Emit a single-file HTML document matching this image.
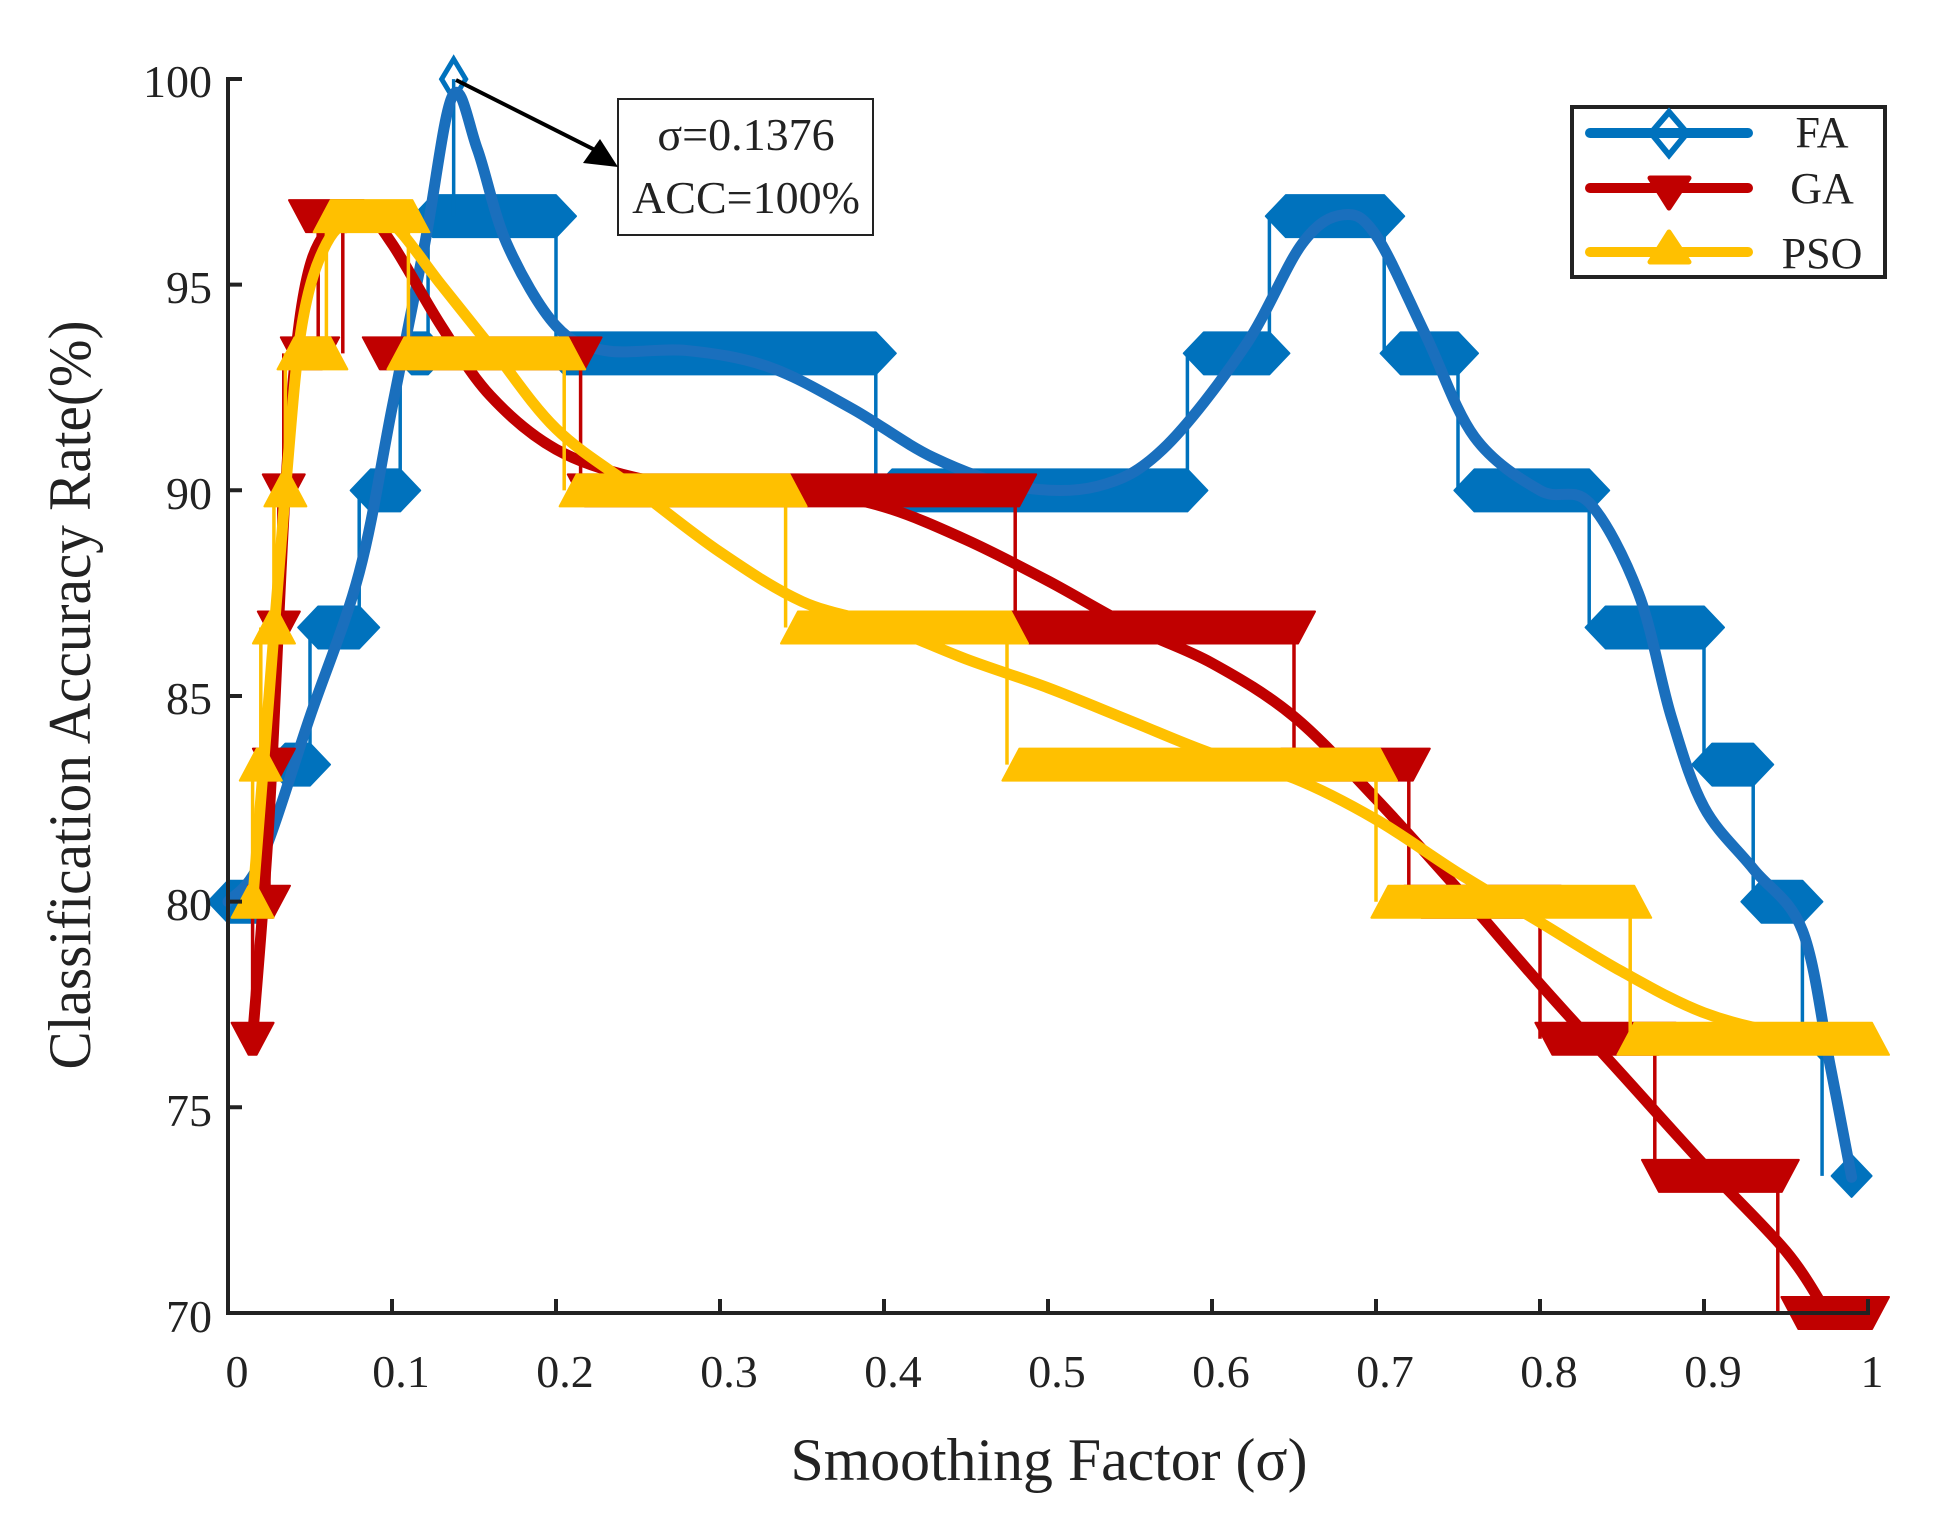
<!DOCTYPE html>
<html><head><meta charset="utf-8"><style>
html,body{margin:0;padding:0;background:#fff;}
svg{display:block;}
text{font-family:"Liberation Serif",serif;fill:#222;}
</style></head><body>
<svg id="s" width="1951" height="1535" viewBox="0 0 1951 1535" xmlns="http://www.w3.org/2000/svg">
<rect width="1951" height="1535" fill="#fff"/>
<g id="plot"></g>
<g stroke="#222" stroke-width="4" fill="none">
<path d="M228,77 L228,1313 L1870,1313"/>
<path d="M392,1313v-14M556,1313v-14M720,1313v-14M884,1313v-14M1048,1313v-14M1212,1313v-14M1376,1313v-14M1540,1313v-14M1704,1313v-14M1868,1313v-14"/>
<path d="M228,79h14M228,284.6h14M228,490.3h14M228,696h14M228,901.6h14M228,1107.3h14"/>
</g>
<g font-size="46" text-anchor="end">
<text x="212" y="97">100</text>
<text x="212" y="303">95</text>
<text x="212" y="509">90</text>
<text x="212" y="714">85</text>
<text x="212" y="920">80</text>
<text x="212" y="1126">75</text>
<text x="212" y="1332">70</text>
</g>
<g font-size="46" text-anchor="middle">
<text x="237" y="1387">0</text>
<text x="401" y="1387">0.1</text>
<text x="565" y="1387">0.2</text>
<text x="729" y="1387">0.3</text>
<text x="893" y="1387">0.4</text>
<text x="1057" y="1387">0.5</text>
<text x="1221" y="1387">0.6</text>
<text x="1385" y="1387">0.7</text>
<text x="1549" y="1387">0.8</text>
<text x="1713" y="1387">0.9</text>
<text x="1872" y="1387">1</text>
</g>
<text x="1049" y="1480" font-size="60" text-anchor="middle" textLength="517" lengthAdjust="spacingAndGlyphs">Smoothing Factor (σ)</text>
<text transform="translate(90,695) rotate(-90)" font-size="60" text-anchor="middle" textLength="749" lengthAdjust="spacingAndGlyphs">Classification Accuracy Rate(%)</text>
<rect x="618" y="99" width="255" height="136" fill="#fff" stroke="#222" stroke-width="2"/>
<text x="746" y="150" font-size="46" text-anchor="middle">σ=0.1376</text>
<text x="746" y="213" font-size="46" text-anchor="middle">ACC=100%</text>
<line x1="456" y1="80" x2="595" y2="150" stroke="#000" stroke-width="4"/>
<polygon points="618,167 583,163 600,139" fill="#000"/>
<rect x="1572" y="107" width="313" height="170" fill="#fff" stroke="#222" stroke-width="4"/>
<g stroke-width="10" stroke-linecap="round">
<line x1="1590" y1="133" x2="1748" y2="133" stroke="#0072BD"/>
<line x1="1590" y1="188" x2="1748" y2="188" stroke="#C00000"/>
<line x1="1590" y1="252" x2="1748" y2="252" stroke="#FFC000"/>
</g>
<polygon points="1669,112 1687,133 1669,155 1651,133" fill="none" stroke="#0072BD" stroke-width="6"/>
<polygon points="1650,178 1689,178 1669,208" fill="#C00000" stroke="#C00000" stroke-width="5" stroke-linejoin="round"/>
<polygon points="1650,262 1689,262 1669,232" fill="#FFC000" stroke="#FFC000" stroke-width="5" stroke-linejoin="round"/>
<g font-size="44" text-anchor="middle" fill="#000">
<text x="1822" y="147">FA</text>
<text x="1822" y="203">GA</text>
<text x="1822" y="268">PSO</text>
</g>
</svg>
<script>
(function(){
var NS="http://www.w3.org/2000/svg",g=document.getElementById('plot');
function X(s){return 228+1640*s;} function Y(v){return 1313-(v-70)*41.13;}
function el(n,a){var e=document.createElementNS(NS,n);for(var k in a)e.setAttribute(k,a[k]);g.appendChild(e);return e;}
var L=[70,73.333,76.667,80,83.333,86.667,90,93.333,96.667,100];
function lv(i){return L[i];}
function curve(pts,col){
  var p=pts.map(function(q){return [X(q[0]),Y(q[1])];});
  var d="M"+p[0][0]+","+p[0][1];
  for(var i=0;i<p.length-1;i++){
    var p0=p[i-1]||p[i],p1=p[i],p2=p[i+1],p3=p[i+2]||p2;
    d+=" C"+(p1[0]+(p2[0]-p0[0])/6)+","+(p1[1]+(p2[1]-p0[1])/6)+" "+(p2[0]-(p3[0]-p1[0])/6)+","+(p2[1]-(p3[1]-p1[1])/6)+" "+p2[0]+","+p2[1];
  }
  el('path',{d:d,fill:'none',stroke:col,'stroke-width':11,'stroke-linecap':'round','stroke-linejoin':'round'});
}
function series(segs,col,type){
  var d="";
  for(var i=0;i<segs.length;i++){
    var s=segs[i];
    d+="M"+X(s[0])+","+Y(lv(s[2]))+"H"+X(s[1]);
    if(i<segs.length-1) d+="V"+Y(lv(segs[i+1][2]));
  }
  el('path',{d:d,fill:'none',stroke:col,'stroke-width':3.5});
  segs.forEach(function(s){
    var x0=X(s[0]),x1=X(s[1]),y=Y(lv(s[2])),pts;
    if(type=='d'){pts=[[x0-20,y],[x0,y-21],[x1,y-21],[x1+20,y],[x1,y+21],[x0,y+21]];}
    else if(type=='v'){pts=[[x0-21,y-16],[x1+21,y-16],[x1+4,y+16],[x0-4,y+16]];}
    else {pts=[[x0-4,y-16],[x1+4,y-16],[x1+21,y+16],[x0-21,y+16]];}
    el('polygon',{points:pts.map(function(q){return q.join(',');}).join(' '),fill:col,stroke:col,'stroke-width':2,'stroke-linejoin':'round'});
  });
}
var B='#0072BD',R='#C00000',Yc='#FFC000';
series([[0.0,0.02,3],[0.035,0.05,4],[0.055,0.08,5],[0.087,0.105,6],[0.112,0.122,7],[0.125,0.2,8],[0.205,0.395,7],[0.405,0.585,6],[0.595,0.635,7],[0.645,0.705,8],[0.715,0.75,7],[0.76,0.83,6],[0.84,0.9,5],[0.905,0.93,4],[0.935,0.96,3],[0.972,0.972,2],[0.99,0.99,1]],B,'d');
el('polygon',{points:[[X(0.1376),Y(100)-20],[X(0.1376)+12,Y(100)],[X(0.1376),Y(100)+20],[X(0.1376)-12,Y(100)]].map(function(q){return q.join(',');}).join(' '),fill:'none',stroke:B,'stroke-width':5});
el('line',{x1:X(0.1376),y1:Y(100),x2:X(0.1376),y2:Y(96.667),stroke:B,'stroke-width':3.5});
curve([[0,80],[0.02,81],[0.05,84.5],[0.08,88],[0.1,92],[0.12,96],[0.137,99.6],[0.152,98.3],[0.17,96],[0.2,94],[0.23,93.4],[0.28,93.4],[0.33,93],[0.38,92],[0.43,90.8],[0.48,90.1],[0.53,90.1],[0.57,91],[0.62,93.5],[0.655,96],[0.68,96.7],[0.7,96.2],[0.73,93.8],[0.76,91.3],[0.8,90],[0.83,89.7],[0.86,87.5],[0.88,84.5],[0.9,82.3],[0.93,80.8],[0.96,79.3],[0.977,76],[0.99,73.3]],'#1a6fbd');
series([[0.015,0.015,2],[0.025,0.025,3],[0.028,0.028,4],[0.031,0.031,5],[0.034,0.034,6],[0.045,0.055,7],[0.05,0.07,8],[0.095,0.215,7],[0.22,0.48,6],[0.49,0.65,5],[0.655,0.72,4],[0.73,0.8,3],[0.81,0.87,2],[0.875,0.945,1],[0.96,1.0,0]],R,'v');
curve([[0.015,76.7],[0.025,82],[0.035,90],[0.045,94.5],[0.06,96.3],[0.085,96.6],[0.1,96],[0.13,94],[0.16,92.3],[0.2,91],[0.25,90.3],[0.3,90.1],[0.35,90],[0.4,89.6],[0.45,88.8],[0.5,87.8],[0.55,86.7],[0.6,85.8],[0.65,84.5],[0.7,82.5],[0.75,80.3],[0.8,78],[0.85,75.8],[0.9,73.6],[0.95,71.5],[0.975,70]],R);
series([[0.015,0.015,3],[0.02,0.02,4],[0.028,0.028,5],[0.035,0.035,6],[0.043,0.06,7],[0.065,0.11,8],[0.11,0.205,7],[0.215,0.34,6],[0.35,0.475,5],[0.485,0.7,4],[0.71,0.855,3],[0.86,1.0,2]],Yc,'^');
curve([[0.015,80],[0.025,85],[0.035,90],[0.045,94],[0.06,96],[0.08,96.7],[0.1,96.5],[0.13,95],[0.16,93.5],[0.2,91.5],[0.25,90],[0.3,88.5],[0.35,87.3],[0.4,86.7],[0.45,85.9],[0.5,85.2],[0.55,84.4],[0.6,83.6],[0.65,83],[0.7,82],[0.75,80.7],[0.8,79.5],[0.85,78.3],[0.9,77.3],[0.95,76.8],[1.0,76.7]],Yc);
})();
</script>
</body></html>
